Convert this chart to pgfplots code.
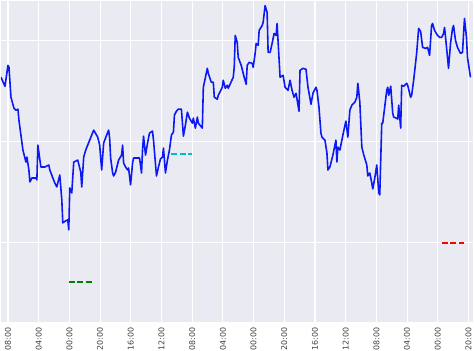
\documentclass[border=0pt]{standalone}
\usepackage{fontspec}
\setmainfont{DejaVu Sans}
\usepackage{pgfplots}
\pgfplotsset{compat=1.18}
\definecolor{bgc}{HTML}{EAEAF2}
\definecolor{lblue}{rgb}{0.05,0.1,0.95}
\definecolor{mcyan}{rgb}{0,0.75,0.75}
\begin{document}
\begin{tikzpicture}
\begin{axis}[
  width=474bp, height=323bp, scale only axis,
  xmin=0, xmax=474, ymin=0, ymax=323,
  axis background/.style={fill=bgc},
  axis line style={draw=none},
  major tick length=0pt,
  grid=major,
  grid style={white, line width=1.1bp},
  xtick={7,37.8,68.6,99.4,130.2,161,191.8,222.6,253.4,284.2,315,345.8,376.6,407.4,438.2,469},
  xticklabels={08:00,04:00,00:00,20:00,16:00,12:00,08:00,04:00,00:00,20:00,16:00,12:00,08:00,04:00,00:00,20:00},
  xticklabel style={rotate=90, anchor=east, font=\fontsize{8}{9}\selectfont, text=black!75, inner sep=0pt, outer sep=0pt},
  xticklabel shift=5bp,
  ytick={80,181.5,283},
  yticklabels={},
  yticklabel style={inner sep=0pt, outer sep=0pt},
  clip=true,
]
\addplot[lblue, line width=1.6bp, line join=round] coordinates {
(0,246)(4,237)(7,258)(8,256)(10,226)(13,215)(15,213)(17,214)(18,203)(22,173)(25,161)(26,166)(28,153)(29,141)(31,145)(35,145)(36,143)(37,178)(40,156)(44,156)(48,158)(49,153)(52,145)(54,140)(56,136)(59,148)(61,123)(62,100)(65,102)(67,103)(68,93)(69,135)(71,130)(73,161)(77,163)(80,151)(81,136)(83,166)(85,173)(87,178)(89,183)(93,193)(97,186)(99,178)(101,153)(103,180)(106,188)(108,193)(109,185)(110,165)(112,150)(113,147)(115,151)(118,163)(121,168)(122,178)(123,160)(124,158)(125,156)(127,153)(128,155)(130,138)(132,160)(133,165)(137,165)(139,165)(141,150)(142,173)(143,187)(145,168)(147,180)(149,190)(152,192)(153,183)(156,147)(158,156)(160,164)(162,166)(163,175)(165,150)(167,163)(169,173)(171,188)(173,191)(174,208)(176,212)(178,214)(181,214)(183,187)(185,198)(187,211)(189,205)(192,200)(193,205)(195,195)(197,206)(198,200)(202,195)(203,236)(207,255)(208,250)(211,241)(213,241)(214,226)(217,224)(218,228)(222,236)(223,243)(225,235)(227,238)(228,235)(233,246)(234,256)(235,288)(237,281)(238,266)(241,258)(243,250)(244,246)(246,239)(247,258)(249,261)(252,260)(253,256)(255,270)(256,280)(258,278)(259,293)(262,298)(263,301)(265,318)(267,311)(268,271)(270,271)(272,280)(274,290)(276,288)(277,300)(280,246)(283,248)(285,236)(288,233)(290,243)(292,233)(294,226)(296,230)(299,212)(300,253)(303,255)(306,254)(308,236)(311,219)(313,230)(316,236)(317,233)(319,216)(321,190)(322,186)(325,183)(327,170)(328,153)(330,156)(333,168)(336,183)(337,161)(338,176)(340,173)(343,188)(346,202)(348,186)(350,213)(352,218)(355,221)(357,226)(358,240)(360,221)(362,176)(364,168)(367,158)(368,147)(370,150)(372,140)(373,134)(375,145)(377,158)(379,130)(380,128)(382,200)(383,200)(387,233)(388,236)(389,228)(391,237)(393,210)(394,206)(397,205)(398,204)(399,218)(401,195)(402,238)(404,237)(407,240)(408,238)(411,226)(412,228)(414,243)(417,270)(419,295)(421,292)(423,276)(426,275)(428,276)(430,268)(432,298)(433,300)(435,293)(438,288)(440,286)(442,286)(444,290)(445,296)(447,276)(449,255)(451,280)(453,295)(454,298)(456,283)(458,276)(461,270)(463,271)(465,305)(467,286)(468,266)(471,246)
};
\addplot[green!50!black, line width=2.2bp, dash pattern=on 6bp off 2.5bp] coordinates {(68,41)(92,41)};
\addplot[mcyan, line width=2.2bp, dash pattern=on 6bp off 2.5bp] coordinates {(171,169)(192,169)};
\addplot[red, line width=2.2bp, dash pattern=on 6bp off 2.5bp] coordinates {(442,80)(466,80)};
\end{axis}
\end{tikzpicture}
\end{document}
